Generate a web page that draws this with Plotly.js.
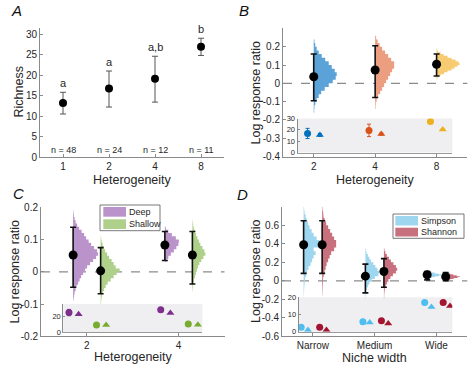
<!DOCTYPE html>
<html><head><meta charset="utf-8">
<script src="https://cdn.plot.ly/plotly-3.0.1.min.js"></script>
<style>html,body{margin:0;padding:0;background:#fff}#g{width:474px;height:366px}</style>
</head><body><div id="g"></div>
<script>
// ---------- DATA ----------
// Panel A
const aCats = ['1','2','4','8'];
const aMean = [13.2, 16.7, 19.1, 26.9];
const aLo = [10.5, 12.2, 13.4, 24.8];
const aHi = [15.8, 21.0, 24.6, 29.0];
const aLetters = ['a','a','a,b','b'];
const aN = [48, 24, 12, 11];
const aYTicks = [0,5,10,15,20,25,30];

// Panel B
const bCats = ['2','4','8'];
const bMean = [0.036, 0.073, 0.104];
const bLo = [-0.095, -0.077, 0.040];
const bHi = [0.160, 0.205, 0.160];
const bYTickVals = [-0.4,-0.3,-0.2,-0.1,0,0.1,0.2];
const bYTickText = ['-0.4','-0.3','-0.2','-0.1','0','0.1','0.2'];
// histograms: first bin lower edge, bin width, relative counts
const bHistLo = [-0.16, -0.14, 0.02];
const bHistStep = [0.02, 0.02, 0.01];
const bHistCounts = [
  [0.5,0.7,1.5,3,5,7.5,11,15,19,22,23,21,18,15,11.5,8,5,3,1.5,0.7],
  [0.5,0.7,1.5,3,5,7,9,11,13,15,17,19,19,16,13,10,7,4.5,2.5,1],
  [0.5,1.5,4,7.5,11,15,18,21,23,22,19,15,11,7,4,1.5,0.5]
];
// inset B (richness): circles and triangles
const bInCirc = [16.8, 19.5, 27.3];
const bInCircErr = [4.5, 5.5, 0.8];
const bInTri = [15.5, 16.3, 20.4];
const bInTriErr = [1.3, 1.0, 0.5];
const bInTicks = [0,10,20,30];

// Panel C
const cCats = ['2','4'];
const cDeepMean = [0.052, 0.083];
const cDeepLo = [-0.048, 0.035];
const cDeepHi = [0.138, 0.125];
const cShalMean = [0.003, 0.052];
const cShalLo = [-0.068, -0.038];
const cShalHi = [0.075, 0.125];
const cYTickVals = [-0.2,-0.1,0,0.1,0.2];
const cYTickText = ['-0.2','-0.1','0','0.1','0.2'];
const cDeepHistLo = [-0.09, 0.03];
const cShalHistLo = [-0.10, -0.06];
const cHistStep = 0.01;
const cDeepCounts = [
  [0.5,1,1.5,2.5,3.5,5,6.5,8,10,12,14,17,20,23,25,24,21,18,15.5,13,11,8.5,6,4,2.5,1.5,0.8,0.4],
  [1.5,3.5,6,9,11.5,13.5,14,11,7,3.5,1]
];
const cShalCounts = [
  [0.4,0.7,1.2,2,3.5,5,7,10,13,16,19,15,13,11,8.5,6.5,4.5,3,2,1,0.5],
  [0.4,0.7,1,1.5,2.5,3.5,4.5,5.5,7,9,11,13,12,10,8,6.5,5,3.5,2.5,1.5,0.8,0.4]
];
const cInDeepCirc = [25.1, 28.6];
const cInDeepCircErr = [4, 1];
const cInDeepTri = [23.0, 24.4];
const cInShalCirc = [9.4, 10.6];
const cInShalTri = [9.4, 9.7];
const cInTicks = [0,20];
const cLegend = ['Deep','Shallow'];

// Panel D
const dCats = ['Narrow','Medium','Wide'];
const dSimMean = [0.39, 0.05, 0.065];
const dSimLo = [0.08, -0.13, 0.01];
const dSimHi = [0.65, 0.18, 0.10];
const dShaMean = [0.39, 0.10, 0.045];
const dShaLo = [0.08, -0.07, 0.0];
const dShaHi = [0.65, 0.24, 0.09];
const dYTickVals = [-0.6,-0.4,-0.2,0,0.2,0.4,0.6];
const dYTickText = ['-0.6','-0.4','-0.2','0','0.2','0.4','0.6'];
const dHistLo = [-0.16, -0.19, 0.01];
const dShaHistLo = [-0.16, -0.19, -0.01];
const dHistStep = [0.04, 0.03, 0.01];
const dSimCounts = [
  [0.3,0.5,0.7,1,1.5,2.5,3.5,5,7,8.5,10,12,10,15,16,13,10,8,6,4.5,3,2,1,0.5],
  [0.3,0.5,0.8,1.5,2.5,4,6.5,9.5,13,14,12,10,8,5.5,4,2.5,1.2,0.5],
  [1,2.5,5,8,12,14,11,7.5,4.5,2,0.8]
];
const dShaCounts = [
  [0.3,0.4,0.6,0.8,1,1.5,2.5,3.5,4.5,6,7.5,9,12,14,14,12,10,8,6,4,2.5,1.5,0.8,0.4],
  [0.3,0.4,0.6,1,1.8,3,4.5,6.5,9,12,13.3,12,9.5,7,5,3,1.5,0.6],
  [0.8,2,4.5,8,12,14,11,7.5,4.5,2,0.8]
];
const dInSimCirc = [2.6, 5.8, 17.0];
const dInSimTri = [1.0, 5.3, 14.4];
const dInShaCirc = [2.6, 6.4, 17.0];
const dInShaTri = [1.0, 4.7, 15.0];
const dInTicks = [0,10,20];
const dLegend = ['Simpson','Shannon'];

// ---------- LAYOUT HELPERS ----------
const W = 474, H = 366;
const FONT = 'Liberation Sans, Arial, Helvetica, sans-serif';
const TXT = '#262626';
const AX = '#8a8a8a';
const dx = (a,b) => [a/W, b/W];
const dy = (t,b) => [1-b/H, 1-t/H];
const px = v => v/W, py = v => 1 - v/H;

const mainX = {A:[40,224,0.5,4.5], B:[283,467.3,0.5,3.5], C:[41,224.5,0.5,2.5], D:[282,467.3,0.5,3.5]};
function insetRange(main, a, b){
  const [p0,p1,r0,r1] = main; const s = (r1-r0)/(p1-p0);
  return [r0+(a-p0)*s, r0+(b-p0)*s];
}
function baseAxis(extra){
  return Object.assign({showgrid:false, zeroline:false, showline:true, linecolor:AX, linewidth:1,
    ticks:'inside', ticklen:3, tickcolor:AX, tickfont:{size:10, color:TXT, family:FONT}, fixedrange:true}, extra);
}
const pos = arr => arr.map((_,i)=>i+1);

const colB = ['#5aa2d8','#eb9f80','#f6cb72'];
const colBin = ['#0072BD','#D95319','#EDB120'];
const colDeep = '#bb93cb', colShal = '#aed08a';
const colDeepIn = '#7E2F8E', colShalIn = '#77AC30';
const colSim = '#9fd6ef', colSha = '#c9707f';
const colSimIn = '#4DBEEE', colShaIn = '#A2142F';

function hist(lo, step, counts, x0, scale, color, xa, ya){
  const xs=[x0], ys=[lo];
  counts.forEach((c,i)=>{ const w = x0 + c*scale; xs.push(w,w); ys.push(lo+i*step, lo+(i+1)*step); });
  xs.push(x0); ys.push(lo+counts.length*step);
  return {type:'scatter', mode:'lines', x:xs, y:ys, fill:'toself', fillcolor:color, line:{width:0},
    xaxis:xa, yaxis:ya, hoverinfo:'skip', showlegend:false};
}
function errPts(xs, m, lo, hi, xa, ya, opt){
  opt = opt || {};
  return {type:'scatter', mode:'markers', x:xs, y:m, xaxis:xa, yaxis:ya, showlegend:false, hoverinfo:'skip',
    marker:{color:'#000', size:opt.size||9},
    error_y:{type:'data', symmetric:false, array:hi.map((h,i)=>h-m[i]), arrayminus:m.map((v,i)=>v-lo[i]),
      color:opt.ecolor||'#111', thickness:opt.th||1.6, width:opt.w||3}};
}
function insetPts(xs, vals, errs, symbol, color, xa, ya){
  const t = {type:'scatter', mode:'markers', x:xs, y:vals, xaxis:xa, yaxis:ya, showlegend:false, hoverinfo:'skip',
    marker:{color:color, size:7, symbol:symbol}};
  if (errs) t.error_y = {type:'data', array:errs, color:color, thickness:1, width:2};
  return t;
}

const traces = [];
// A
traces.push(errPts(pos(aCats), aMean, aLo, aHi, 'x', 'y', {size:8, ecolor:'#555', th:1, w:3}));

// B
const sB = 1/61.43;
bMean.forEach((_,i)=> traces.push(hist(bHistLo[i], bHistStep[i], bHistCounts[i], i+1, sB, colB[i], 'x2','y2')));
traces.push(errPts(pos(bCats), bMean, bLo, bHi, 'x2','y2'));
bCats.forEach((_,i)=>{
  traces.push(insetPts([i+1-0.1], [bInCirc[i]], [bInCircErr[i]], 'circle', colBin[i], 'x3','y3'));
  traces.push(insetPts([i+1+0.1], [bInTri[i]], [bInTriErr[i]], 'triangle-up', colBin[i], 'x3','y3'));
});

// C
const sC = 1/91.75;
cCats.forEach((_,i)=>{
  traces.push(hist(cDeepHistLo[i], cHistStep, cDeepCounts[i], i+1-0.15, sC, colDeep, 'x4','y4'));
  traces.push(hist(cShalHistLo[i], cHistStep, cShalCounts[i], i+1+0.15, sC, colShal, 'x4','y4'));
});
traces.push(errPts(pos(cCats).map(p=>p-0.15), cDeepMean, cDeepLo, cDeepHi, 'x4','y4'));
traces.push(errPts(pos(cCats).map(p=>p+0.15), cShalMean, cShalLo, cShalHi, 'x4','y4'));
traces.push(insetPts(pos(cCats).map(p=>p-0.195), cInDeepCirc, cInDeepCircErr, 'circle', colDeepIn, 'x5','y5'));
traces.push(insetPts(pos(cCats).map(p=>p-0.09), cInDeepTri, null, 'triangle-up', colDeepIn, 'x5','y5'));
traces.push(insetPts(pos(cCats).map(p=>p+0.105), cInShalCirc, null, 'circle', colShalIn, 'x5','y5'));
traces.push(insetPts(pos(cCats).map(p=>p+0.21), cInShalTri, null, 'triangle-up', colShalIn, 'x5','y5'));

// D
const sD = 1/61.77;
dCats.forEach((_,i)=>{
  traces.push(hist(dHistLo[i], dHistStep[i], dSimCounts[i], i+1-0.15, sD, colSim, 'x6','y6'));
  traces.push(hist(dShaHistLo[i], dHistStep[i], dShaCounts[i], i+1+0.15, sD, colSha, 'x6','y6'));
});
traces.push(errPts(pos(dCats).map(p=>p-0.15), dSimMean, dSimLo, dSimHi, 'x6','y6'));
traces.push(errPts(pos(dCats).map(p=>p+0.15), dShaMean, dShaLo, dShaHi, 'x6','y6'));
traces.push(insetPts(pos(dCats).map(p=>p-0.19), dInSimCirc, null, 'circle', colSimIn, 'x7','y7'));
traces.push(insetPts(pos(dCats).map(p=>p-0.08), dInSimTri, null, 'triangle-up', colSimIn, 'x7','y7'));
traces.push(insetPts(pos(dCats).map(p=>p+0.11), dInShaCirc, dInShaCirc.map(()=>0.8), 'circle', colShaIn, 'x7','y7'));
traces.push(insetPts(pos(dCats).map(p=>p+0.22), dInShaTri, null, 'triangle-up', colShaIn, 'x7','y7'));

// ---------- AXES ----------
const insetX = (main,a,b,anchor) => baseAxis({domain:dx(a,b), range:insetRange(main,a,b), anchor:anchor,
  showticklabels:false, ticks:'', linecolor:'#9a9a9a'});
const insetY = (t,b,range,ticks,anchor) => baseAxis({domain:dy(t,b), range:range, anchor:anchor,
  tickvals:ticks, ticktext:ticks.map(String), tickfont:{size:7.5, color:TXT, family:FONT}, ticklen:2});

const layout = {
  width:W, height:H, margin:{l:0,r:0,t:0,b:0}, showlegend:false,
  paper_bgcolor:'#fff', plot_bgcolor:'rgba(0,0,0,0)', font:{family:FONT, color:TXT},
  xaxis: baseAxis({domain:dx(40,224), range:[0.5,4.5], anchor:'y', tickvals:pos(aCats), ticktext:aCats}),
  yaxis: baseAxis({domain:dy(28,157), range:[0,31.5], anchor:'x', tickvals:aYTicks, ticktext:aYTicks.map(String)}),
  xaxis2: baseAxis({domain:dx(283,467.3), range:[0.5,3.5], anchor:'y2', tickvals:pos(bCats), ticktext:bCats}),
  yaxis2: baseAxis({domain:dy(28.4,156.6), range:[-0.4,0.3], anchor:'x2', tickvals:bYTickVals, ticktext:bYTickText}),
  xaxis3: insetX(mainX.B, 297.5, 452.3, 'y3'),
  yaxis3: insetY(118.5, 152.5, [0,30], bInTicks, 'x3'),
  xaxis4: baseAxis({domain:dx(41,224.5), range:[0.5,2.5], anchor:'y4', tickvals:pos(cCats), ticktext:cCats}),
  yaxis4: baseAxis({domain:dy(207.3,336.3), range:[-0.2,0.2], anchor:'x4', tickvals:cYTickVals, ticktext:cYTickText}),
  xaxis5: insetX(mainX.C, 63.3, 202.3, 'y5'),
  yaxis5: insetY(304, 332.3, [0,36], cInTicks, 'x5'),
  xaxis6: baseAxis({domain:dx(282,467.3), range:[0.5,3.5], anchor:'y6', tickvals:pos(dCats), ticktext:dCats}),
  yaxis6: baseAxis({domain:dy(206.8,336.3), range:[-0.6,0.8], anchor:'x6', tickvals:dYTickVals, ticktext:dYTickText}),
  xaxis7: insetX(mainX.D, 298.7, 452.3, 'y7'),
  yaxis7: insetY(297.3, 331.7, [0,20], dInTicks, 'x7'),
  shapes: [], annotations: []
};

// zero lines and inset backgrounds
[['x2','y2'],['x4','y4'],['x6','y6']].forEach(([xa,ya])=>{
  layout.shapes.push({type:'line', xref:xa+' domain', yref:ya, x0:0, x1:1, y0:0, y1:0,
    line:{color:'#8c8c8c', width:1.2, dash:'dash'}, layer:'below'});
});
[['x3','y3'],['x5','y5'],['x7','y7']].forEach(([xa,ya])=>{
  layout.shapes.push({type:'rect', xref:xa+' domain', yref:ya+' domain', x0:0, x1:1, y0:0, y1:1,
    fillcolor:'#efeff1', line:{width:0}, layer:'below'});
});

// legends (C and D)
function legendBox(x0,x1,y0,y1,items){
  layout.shapes.push({type:'rect', xref:'paper', yref:'paper', x0:px(x0), x1:px(x1), y0:py(y1), y1:py(y0),
    fillcolor:'#fff', line:{color:'#555', width:0.8}, layer:'above'});
  items.forEach(it=>{
    layout.shapes.push({type:'rect', xref:'paper', yref:'paper', x0:px(it.px0), x1:px(it.px1), y0:py(it.py1), y1:py(it.py0),
      fillcolor:it.color, line:{width:0}, layer:'above'});
    layout.annotations.push({xref:'paper', yref:'paper', x:px(it.tx), y:py((it.py0+it.py1)/2), text:it.text,
      showarrow:false, xanchor:'left', yanchor:'middle', font:{size:9, color:TXT}});
  });
}
legendBox(100,160,205,230.7,[
  {px0:103.3, px1:126, py0:207, py1:216.7, color:colDeep, tx:126.5, text:cLegend[0]},
  {px0:103.3, px1:126, py0:219.3, py1:229, color:colShal, tx:126.5, text:cLegend[1]}
]);
legendBox(393,464,214,238.3,[
  {px0:395.3, px1:418, py0:216, py1:225.5, color:colSim, tx:418.5, text:dLegend[0]},
  {px0:395.3, px1:418, py0:227.7, py1:236.5, color:colSha, tx:418.5, text:dLegend[1]}
]);

// panel A letters and n labels
aCats.forEach((_,i)=>{
  layout.annotations.push({xref:'x', yref:'y', x:i+1, y:aHi[i], text:aLetters[i], showarrow:false,
    yanchor:'bottom', yshift:1, font:{size:11, color:TXT}});
  layout.annotations.push({xref:'x', yref:'y', x:i+1, y:0, text:'n = '+aN[i], showarrow:false,
    yanchor:'bottom', yshift:0, font:{size:9, color:TXT}});
});

// titles
function t(x,y,text,opt){ layout.annotations.push(Object.assign({xref:'paper', yref:'paper', x:px(x), y:py(y),
  text:text, showarrow:false, xanchor:'center', yanchor:'middle', font:{size:12.5, color:TXT}}, opt||{})); }
t(132,180,'Heterogeneity'); t(375,180,'Heterogeneity'); t(133,357,'Heterogeneity'); t(374.5,357.5,'Niche width');
t(18,92.5,'Richness',{textangle:-90}); t(255.5,93,'Log response ratio',{textangle:-90});
t(14,271.5,'Log response ratio',{textangle:-90}); t(255.5,271.5,'Log response ratio',{textangle:-90});
const L = {size:15, color:'#111'};
t(16.5,10,'<i>A</i>',{font:L}); t(244,10,'<i>B</i>',{font:L}); t(18,193,'<i>C</i>',{font:L}); t(243,194,'<i>D</i>',{font:L});

Plotly.newPlot('g', traces, layout, {staticPlot:true, displayModeBar:false});
</script></body></html>
